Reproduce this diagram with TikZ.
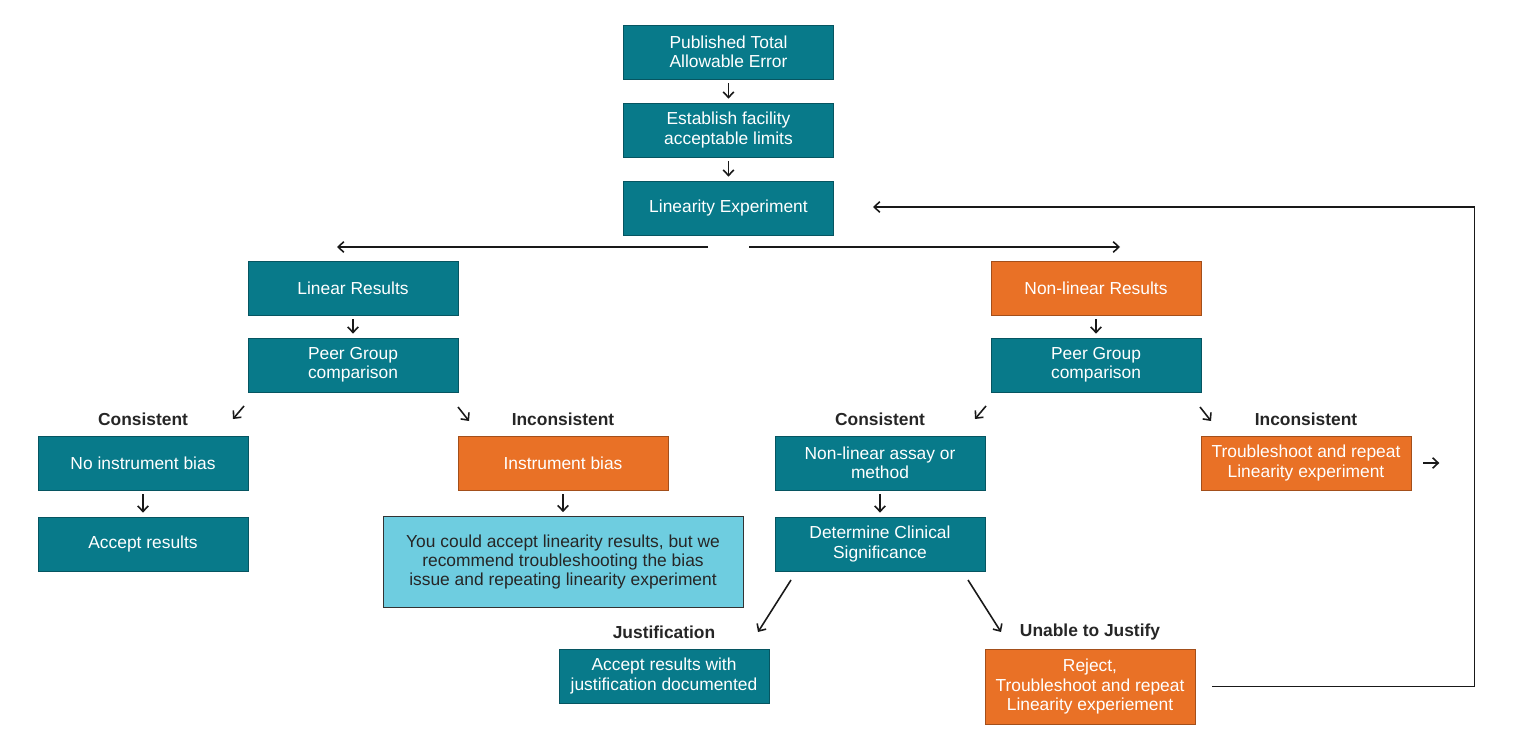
\documentclass[tikz,border=0pt]{standalone}
\usepackage{fontspec}
\setmainfont{Liberation Sans}
\usetikzlibrary{arrows.meta}
\definecolor{tealbox}{RGB}{8,122,138}
\definecolor{orangebox}{RGB}{233,113,38}
\definecolor{bluebox}{RGB}{110,205,224}
\tikzset{
	tealnode/.style = {fill=tealbox, draw=tealbox!70!black, text=white, align=center,
		minimum width=4.2cm, minimum height=1.08cm, inner sep=1pt, font=\fontsize{9.9}{10.9}\selectfont},
	orangenode/.style = {tealnode, fill=orangebox, draw=orangebox!70!black},
	bluenode/.style = {tealnode, fill=bluebox, draw=black!80, text=black!85,
		minimum width=7.2cm, minimum height=1.82cm},
	label/.style = {font=\bfseries\fontsize{9.9}{10.9}\selectfont, text=black!85},
	arr/.style = {-{Straight Barb[length=3.2pt,width=6pt]}, line width=0.9pt, black!90},
	gap/.style = {arr, shorten <=0.08cm, shorten >=0.08cm}
}
\begin{document}
\begin{tikzpicture}[x=0.02cm, y=-0.02cm]%flowchart linearity
	\useasboundingbox (0,0) rectangle (1520,756);
	
	\node[tealnode] (pub) at (728.5,52) {Published Total\\Allowable Error};
	\node[tealnode] (est) at (728.5,130) {Establish facility\\acceptable limits};
	\node[tealnode] (lin) at (728.5,208) {Linearity Experiment};
	
	\node[tealnode] (linres) at (353,288) {Linear Results};
	\node[tealnode] (peerL) at (353,365) {Peer Group\\comparison};
	\node[orangenode] (nonres) at (1096,288) {Non-linear Results};
	\node[tealnode] (peerR) at (1096,365) {Peer Group\\comparison};
	
	\node[label] (consL) at (143,419) {Consistent};
	\node[label] (inconsL) at (563,419) {Inconsistent};
	\node[label] (consR) at (880,419) {Consistent};
	\node[label] (inconsR) at (1306,419) {Inconsistent};
	
	\node[tealnode] (nobias) at (143,463) {No instrument bias};
	\node[tealnode] (accept) at (143,544) {Accept results};
	\node[orangenode] (bias) at (563,463) {Instrument bias};
	\node[bluenode] (could) at (563,562) {You could accept linearity results, but we\\recommend troubleshooting the bias\\issue and repeating linearity experiment};
	
	\node[tealnode] (assay) at (880,463) {Non-linear assay or\\method};
	\node[tealnode] (signif) at (880,544) {Determine Clinical\\Significance};
	\node[orangenode] (trouble) at (1306,463) {Troubleshoot and repeat\\Linearity experiment};
	
	\node[label] (justif) at (664,632) {Justification};
	\node[label] (unable) at (1090,632) {Unable to Justify};
	\node[tealnode] (acceptj) at (664,676) {Accept results with\\justification documented};
	\node[orangenode, minimum height=1.5cm] (reject) at (1090,686.5) {Reject,\\Troubleshoot and repeat\\Linearity experiement};
	
	% small arrows between boxes
	\draw[gap] (pub) -- (est);
	\draw[gap] (est) -- (lin);
	\draw[gap] (linres) -- (peerL);
	\draw[gap] (nonres) -- (peerR);
	\draw[gap] (nobias) -- (accept);
	\draw[gap] (bias) -- (could);
	\draw[gap] (assay) -- (signif);
	
	% split under the experiment
	\coordinate (splitL) at (708,247);
	\coordinate (splitR) at (749,247);
	\draw[arr] (splitL) -- (337,247);
	\draw[arr] (splitR) -- (1120,247);
	
	% diagonal ticks
	\draw[arr] (244,406) -- (233,419);
	\draw[arr] (458,407) -- (469,421);
	\draw[arr] (986,406) -- (975,419);
	\draw[arr] (1200,407) -- (1211,421);
	\draw[arr] ([xshift=0.24cm]trouble.east) -- ++(16,0);
	
	% long arrows
	\draw[arr] (791,580) -- (758,632);
	\draw[arr] (968,580) -- (1001,632);
	
	% loop back
	\draw[arr] ([xshift=0.34cm]reject.east) -- ++(262,0) |- (873,207);
\end{tikzpicture}
\end{document}
